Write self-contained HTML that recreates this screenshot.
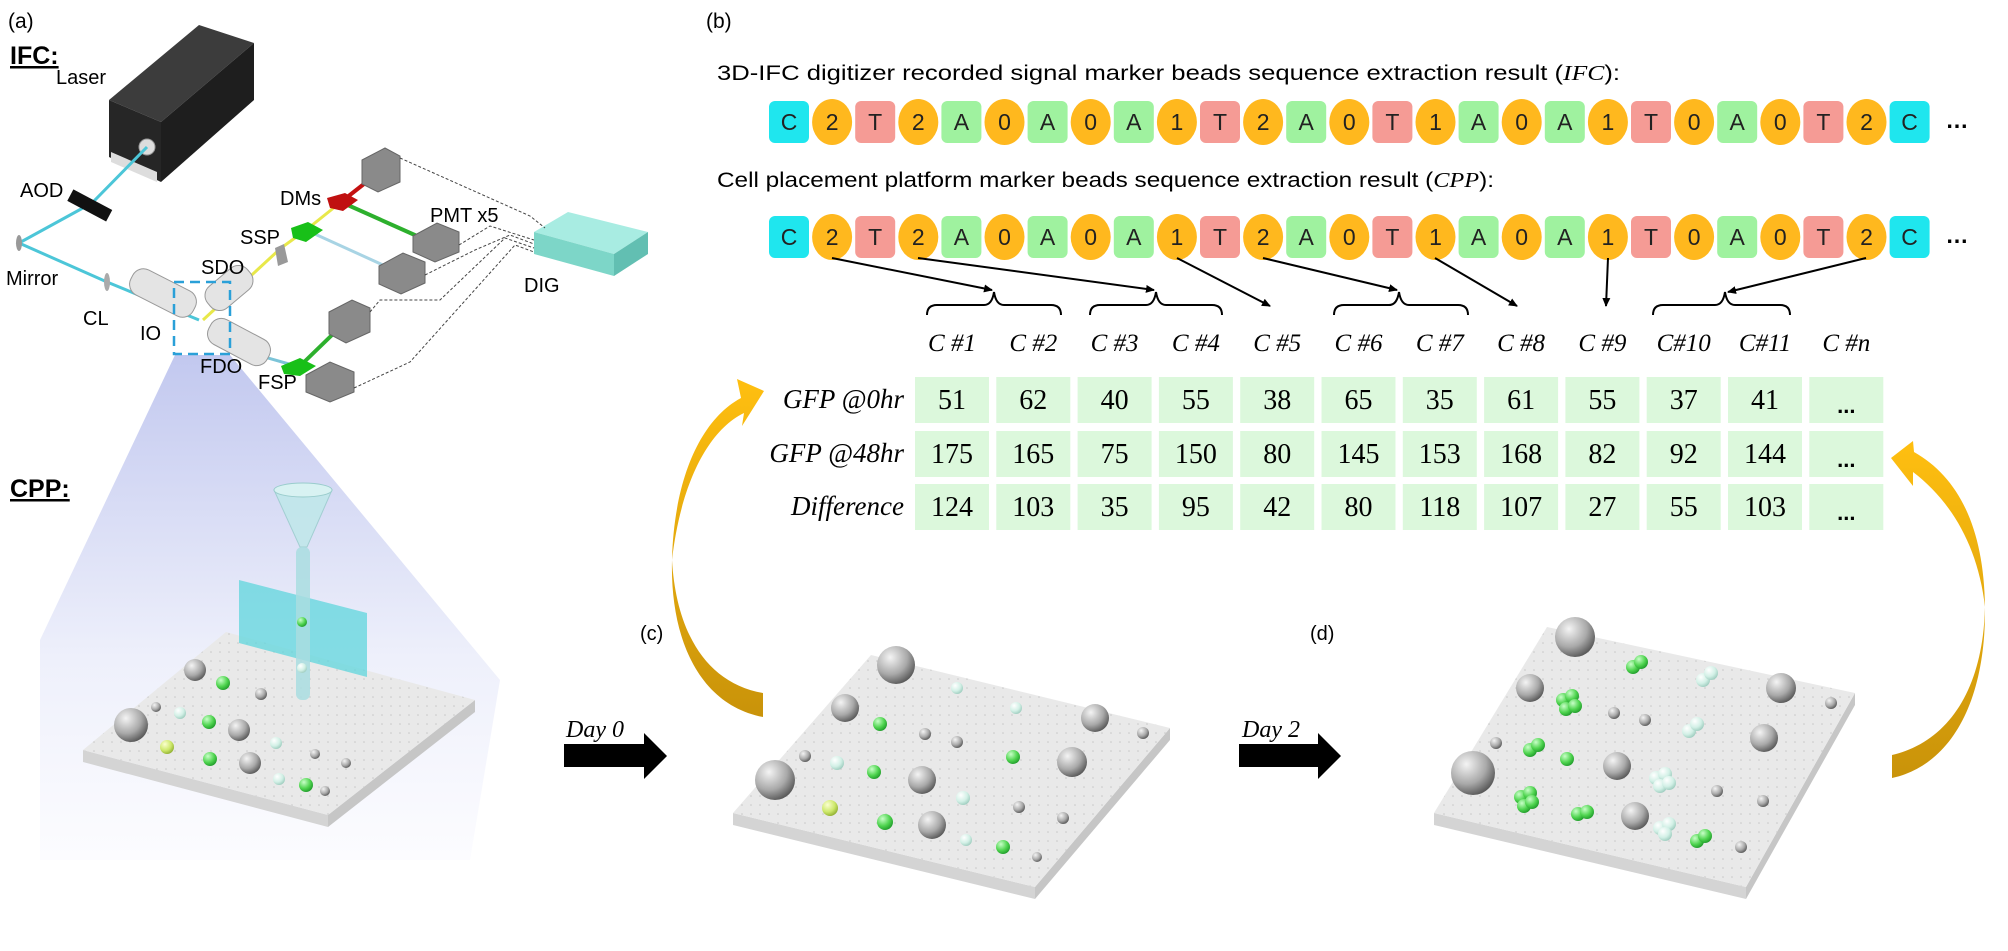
<!DOCTYPE html>
<html><head><meta charset="utf-8"><style>
html,body{margin:0;padding:0;background:#fff;}
svg{display:block;}
text{font-family:"Liberation Sans",sans-serif;}
.s{font-family:"Liberation Serif",serif;font-style:italic;}
.n{font-family:"Liberation Serif",serif;}
</style></head><body>
<svg width="2008" height="951" viewBox="0 0 2008 951" xmlns="http://www.w3.org/2000/svg">
<defs>
<radialGradient id="gs" cx="0.35" cy="0.3" r="0.75"><stop offset="0" stop-color="#f4f4f4"/><stop offset="0.6" stop-color="#a9a9a9"/><stop offset="1" stop-color="#555"/></radialGradient>
<radialGradient id="gg" cx="0.35" cy="0.3" r="0.75"><stop offset="0" stop-color="#c8ffc8"/><stop offset="0.6" stop-color="#4fd44f"/><stop offset="1" stop-color="#1f9a2a"/></radialGradient>
<radialGradient id="gp" cx="0.35" cy="0.3" r="0.75"><stop offset="0" stop-color="#ffffff"/><stop offset="0.6" stop-color="#d2f0e6"/><stop offset="1" stop-color="#9ccbbd"/></radialGradient>
<radialGradient id="gy" cx="0.35" cy="0.3" r="0.75"><stop offset="0" stop-color="#fbffd0"/><stop offset="0.6" stop-color="#cde86a"/><stop offset="1" stop-color="#8fae30"/></radialGradient>
<linearGradient id="cone" x1="0" y1="0" x2="0" y2="1"><stop offset="0" stop-color="#c2c8ef"/><stop offset="0.6" stop-color="#eef0fb"/><stop offset="1" stop-color="#fcfcff"/></linearGradient>
<linearGradient id="gold" x1="0" y1="0" x2="0" y2="1"><stop offset="0" stop-color="#ffbf10"/><stop offset="1" stop-color="#c9930a"/></linearGradient>
<pattern id="dots" width="9" height="9" patternUnits="userSpaceOnUse"><rect width="9" height="9" fill="#e9e9e9"/><circle cx="4" cy="4" r="0.8" fill="#c8c8c8"/></pattern>
<marker id="ah" markerWidth="10" markerHeight="10" refX="8" refY="4" orient="auto" markerUnits="userSpaceOnUse"><path d="M0,0 L9,4 L0,8 Z" fill="#000"/></marker>
</defs>

<polygon points="175,355 230,355 500,680 470,860 40,860 40,640" fill="url(#cone)"/>

<text x="8" y="28" font-size="21">(a)</text>
<text x="10" y="64" font-size="25" font-weight="bold" text-decoration="underline">IFC:</text>
<text x="56" y="84" font-size="20">Laser</text>
<polygon points="109,100 199,25 254,43 161,122" fill="#3c3c3c"/>
<polygon points="109,100 161,122 161,182 109,157" fill="#262626"/>
<polygon points="161,122 254,43 254,100 161,182" fill="#1e1e1e"/>
<polygon points="111,152 157,172 157,182 111,162" fill="#ddd"/>
<circle cx="147" cy="147" r="8" fill="#ddd" stroke="#999"/>
<polyline points="147,147 92,203 19,243 107,282 199,320" fill="none" stroke="#4cc6d8" stroke-width="3"/>
<polyline points="203,320 281,248 306,230 341,202" fill="none" stroke="#e8e84a" stroke-width="3"/>
<line x1="341" y1="202" x2="369" y2="180" stroke="#c41010" stroke-width="4"/>
<line x1="341" y1="202" x2="417" y2="236" stroke="#2db02d" stroke-width="4"/>
<line x1="306" y1="230" x2="383" y2="265" stroke="#a8d4e4" stroke-width="3"/>
<line x1="240" y1="350" x2="296" y2="366" stroke="#7cc4d8" stroke-width="3"/>
<line x1="300" y1="366" x2="332" y2="335" stroke="#2db02d" stroke-width="4"/>
<rect x="68" y="199" width="44" height="13" fill="#111" transform="rotate(28 90 205)"/>
<ellipse cx="19" cy="243" rx="3" ry="8" fill="#999"/>
<ellipse cx="107" cy="282" rx="3" ry="9" fill="#aaa"/>
<rect x="128" y="279" width="70" height="28" rx="12" fill="#e4e4e4" stroke="#999" transform="rotate(27 163 293)"/>
<rect x="203" y="274" width="52" height="28" rx="12" fill="#e4e4e4" stroke="#999" transform="rotate(-40 229 288)"/>
<rect x="206" y="328" width="66" height="28" rx="12" fill="#e4e4e4" stroke="#999" transform="rotate(28 239 342)"/>
<rect x="174" y="282" width="56" height="72" fill="none" stroke="#2aa0d8" stroke-width="2.5" stroke-dasharray="10,6"/>
<polygon points="327,198 345,193 358,200 343,211 330,208" fill="#c01010"/>
<polygon points="291,228 308,222 323,230 306,242 293,238" fill="#18c018"/>
<polygon points="275,248 284,244 288,262 278,266" fill="#999"/>
<polygon points="281,366 300,358 316,366 300,376 284,374" fill="#18c018"/>
<g fill="#8a8a8a" stroke="#666" stroke-width="1">
<polygon points="362,160 385,148 400,156 400,182 378,192 362,184"/>
<polygon points="413,236 437,223 459,232 459,252 435,262 413,252"/>
<polygon points="379,266 403,253 425,262 425,283 401,294 379,284"/>
<polygon points="329,312 352,300 370,308 370,332 346,343 329,334"/>
<polygon points="306,375 330,362 354,372 354,392 330,402 306,392"/>
</g>
<polygon points="534,232 568,212 648,232 614,254" fill="#a8ece2"/>
<polygon points="534,232 614,254 614,276 534,254" fill="#7dd6c8"/>
<polygon points="614,254 648,232 648,254 614,276" fill="#62bfb2"/>
<g fill="none" stroke="#444" stroke-width="1" stroke-dasharray="3,2">
<polyline points="400,158 530,216 545,228"/>
<polyline points="459,245 490,226 534,240"/>
<polyline points="425,275 475,250 510,235 534,244"/>
<polyline points="370,312 380,300 440,300 505,238 534,248"/>
<polyline points="354,388 410,362 515,245 534,252"/>
</g>
<g font-size="20">
<text x="20" y="197">AOD</text>
<text x="6" y="285">Mirror</text>
<text x="83" y="325">CL</text>
<text x="140" y="340">IO</text>
<text x="200" y="373">FDO</text>
<text x="258" y="389">FSP</text>
<text x="201" y="274">SDO</text>
<text x="240" y="244">SSP</text>
<text x="280" y="205">DMs</text>
<text x="430" y="222">PMT x5</text>
<text x="524" y="292">DIG</text>
</g>
<text x="10" y="497" font-size="25" font-weight="bold" text-decoration="underline">CPP:</text>

<polygon points="83,750 328,815 328,827 83,762" fill="#d4d4d4"/>
<polygon points="328,815 475,700 475,712 328,827" fill="#c6c6c6"/>
<polygon points="226,632 475,700 328,815 83,750" fill="url(#dots)"/>
<polygon points="239,580 367,613 367,677 239,643" fill="#5fd6dc" opacity="0.75"/>
<polygon points="274,490 332,490 307,547 300,547" fill="#bfe8ea" opacity="0.85" stroke="#9cc" stroke-width="1"/>
<ellipse cx="303" cy="490" rx="29" ry="7" fill="#d8f2f2" stroke="#9cc"/>
<rect x="296" y="547" width="14" height="153" rx="6" fill="#a9dde0" opacity="0.85"/>
<circle cx="302" cy="622" r="5" fill="url(#gg)"/><circle cx="302" cy="668" r="5" fill="url(#gp)"/>
<g>
<circle cx="131" cy="725" r="17" fill="url(#gs)"/><circle cx="195" cy="670" r="11" fill="url(#gs)"/>
<circle cx="223" cy="683" r="7" fill="url(#gg)"/><circle cx="261" cy="694" r="6" fill="url(#gs)"/>
<circle cx="156" cy="707" r="5" fill="url(#gs)"/><circle cx="180" cy="713" r="6" fill="url(#gp)"/>
<circle cx="209" cy="722" r="7" fill="url(#gg)"/><circle cx="239" cy="730" r="11" fill="url(#gs)"/>
<circle cx="167" cy="747" r="7" fill="url(#gy)"/><circle cx="276" cy="743" r="6" fill="url(#gp)"/>
<circle cx="210" cy="759" r="7" fill="url(#gg)"/><circle cx="250" cy="763" r="11" fill="url(#gs)"/>
<circle cx="315" cy="754" r="5" fill="url(#gs)"/><circle cx="346" cy="763" r="5" fill="url(#gs)"/>
<circle cx="279" cy="779" r="6" fill="url(#gp)"/><circle cx="306" cy="785" r="7" fill="url(#gg)"/>
<circle cx="325" cy="791" r="5" fill="url(#gs)"/>
</g>

<polygon points="564,744 644,744 644,733 667,756 644,779 644,767 564,767" fill="#000"/>
<text x="566" y="737" font-size="24" class="s">Day 0</text>
<polygon points="1239,744 1318,744 1318,733 1341,756 1318,779 1318,767 1239,767" fill="#000"/>
<text x="1242" y="737" font-size="24" class="s">Day 2</text>
<text x="640" y="640" font-size="20">(c)</text>
<text x="1310" y="640" font-size="20">(d)</text>

<polygon points="733,813 1035,887 1035,899 733,825" fill="#d4d4d4"/>
<polygon points="1035,887 1170,728 1170,740 1035,899" fill="#c6c6c6"/>
<polygon points="871,655 1170,728 1035,887 733,813" fill="url(#dots)"/>
<g>
<circle cx="896" cy="665" r="19" fill="url(#gs)"/><circle cx="845" cy="708" r="14" fill="url(#gs)"/>
<circle cx="957" cy="688" r="6" fill="url(#gp)"/><circle cx="880" cy="724" r="7" fill="url(#gg)"/>
<circle cx="925" cy="734" r="6" fill="url(#gs)"/><circle cx="957" cy="742" r="6" fill="url(#gs)"/>
<circle cx="805" cy="756" r="6" fill="url(#gs)"/><circle cx="837" cy="763" r="7" fill="url(#gp)"/>
<circle cx="874" cy="772" r="7" fill="url(#gg)"/><circle cx="775" cy="780" r="20" fill="url(#gs)"/>
<circle cx="922" cy="780" r="14" fill="url(#gs)"/><circle cx="963" cy="798" r="7" fill="url(#gp)"/>
<circle cx="830" cy="808" r="8" fill="url(#gy)"/><circle cx="885" cy="822" r="8" fill="url(#gg)"/>
<circle cx="932" cy="825" r="14" fill="url(#gs)"/><circle cx="966" cy="840" r="6" fill="url(#gp)"/>
<circle cx="1016" cy="708" r="6" fill="url(#gp)"/><circle cx="1095" cy="718" r="14" fill="url(#gs)"/>
<circle cx="1143" cy="733" r="6" fill="url(#gs)"/><circle cx="1013" cy="757" r="7" fill="url(#gg)"/>
<circle cx="1072" cy="762" r="15" fill="url(#gs)"/><circle cx="1019" cy="807" r="6" fill="url(#gs)"/>
<circle cx="1063" cy="818" r="6" fill="url(#gs)"/><circle cx="1003" cy="847" r="7" fill="url(#gg)"/>
<circle cx="1037" cy="857" r="5" fill="url(#gs)"/>
</g>

<polygon points="1434,813 1746,887 1746,899 1434,825" fill="#d4d4d4"/>
<polygon points="1746,887 1855,693 1855,705 1746,899" fill="#c6c6c6"/>
<polygon points="1547,627 1855,693 1746,887 1434,813" fill="url(#dots)"/>
<g>
<circle cx="1575" cy="637" r="20" fill="url(#gs)"/><circle cx="1781" cy="688" r="15" fill="url(#gs)"/>
<circle cx="1831" cy="703" r="6" fill="url(#gs)"/><circle cx="1530" cy="688" r="14" fill="url(#gs)"/>
<circle cx="1614" cy="713" r="6" fill="url(#gs)"/><circle cx="1645" cy="720" r="6" fill="url(#gs)"/>
<circle cx="1764" cy="738" r="14" fill="url(#gs)"/><circle cx="1496" cy="743" r="6" fill="url(#gs)"/>
<circle cx="1617" cy="766" r="14" fill="url(#gs)"/><circle cx="1473" cy="773" r="22" fill="url(#gs)"/>
<circle cx="1717" cy="791" r="6" fill="url(#gs)"/><circle cx="1763" cy="801" r="6" fill="url(#gs)"/>
<circle cx="1635" cy="816" r="14" fill="url(#gs)"/><circle cx="1741" cy="847" r="6" fill="url(#gs)"/>
<circle cx="1567" cy="759" r="7" fill="url(#gg)"/>
<circle cx="1633" cy="667" r="7" fill="url(#gg)"/><circle cx="1641" cy="662" r="7" fill="url(#gg)"/>
<circle cx="1703" cy="680" r="7" fill="url(#gp)"/><circle cx="1711" cy="673" r="7" fill="url(#gp)"/>
<circle cx="1563" cy="700" r="7" fill="url(#gg)"/><circle cx="1572" cy="696" r="7" fill="url(#gg)"/><circle cx="1566" cy="709" r="7" fill="url(#gg)"/><circle cx="1575" cy="706" r="7" fill="url(#gg)"/>
<circle cx="1689" cy="731" r="7" fill="url(#gp)"/><circle cx="1697" cy="724" r="7" fill="url(#gp)"/>
<circle cx="1530" cy="750" r="7" fill="url(#gg)"/><circle cx="1538" cy="745" r="7" fill="url(#gg)"/>
<circle cx="1656" cy="778" r="7" fill="url(#gp)"/><circle cx="1665" cy="774" r="7" fill="url(#gp)"/><circle cx="1660" cy="786" r="7" fill="url(#gp)"/><circle cx="1669" cy="783" r="7" fill="url(#gp)"/>
<circle cx="1521" cy="797" r="7" fill="url(#gg)"/><circle cx="1530" cy="793" r="7" fill="url(#gg)"/><circle cx="1524" cy="806" r="7" fill="url(#gg)"/><circle cx="1532" cy="802" r="7" fill="url(#gg)"/>
<circle cx="1578" cy="814" r="7" fill="url(#gg)"/><circle cx="1587" cy="812" r="7" fill="url(#gg)"/>
<circle cx="1660" cy="828" r="7" fill="url(#gp)"/><circle cx="1669" cy="824" r="7" fill="url(#gp)"/><circle cx="1665" cy="834" r="7" fill="url(#gp)"/>
<circle cx="1697" cy="841" r="7" fill="url(#gg)"/><circle cx="1705" cy="836" r="7" fill="url(#gg)"/>
</g>

<!-- gold arrows -->
<path d="M763,717 C700,705 670,640 672,560 C674,480 700,420 741,398 L737,379 L764,391 L742,426 L744,413 C705,432 680,490 672,560 C676,630 705,683 763,693 Z" fill="url(#gold)"/>
<path d="M1892,778 C1952,765 1986,700 1985,607 C1984,530 1960,478 1914,452 L1913,441 L1891,458 L1913,486 L1913,472 C1950,500 1978,545 1985,607 C1983,690 1948,742 1892,755 Z" fill="url(#gold)"/>

<text x="706" y="28" font-size="21">(b)</text>
<text x="717" y="80" font-size="21" textLength="903" lengthAdjust="spacingAndGlyphs">3D-IFC digitizer recorded signal marker beads sequence extraction result (<tspan class="s">IFC</tspan>):</text>
<text x="717" y="187" font-size="21" textLength="777" lengthAdjust="spacingAndGlyphs">Cell placement platform marker beads sequence extraction result (<tspan class="s">CPP</tspan>):</text>

<g id="rows" font-size="23" text-anchor="middle"></g>

<g stroke="#000" stroke-width="2" fill="none" marker-end="url(#ah)">
<line x1="832" y1="258" x2="992" y2="290"/>
<line x1="918" y1="258" x2="1154" y2="290"/>
<line x1="1177" y1="258" x2="1270" y2="306"/>
<line x1="1263" y1="258" x2="1397" y2="290"/>
<line x1="1435" y1="258" x2="1517" y2="306"/>
<line x1="1608" y1="258" x2="1606" y2="306"/>
<line x1="1866" y1="258" x2="1728" y2="292"/>
</g>
<g stroke="#000" stroke-width="2" fill="none">
<path d="M927,315 Q927,305 937,305 L984,305 Q992,305 994,292 Q996,305 1004,305 L1051,305 Q1061,305 1061,315"/>
<path d="M1090,315 Q1090,305 1100,305 L1146,305 Q1154,305 1156,292 Q1158,305 1166,305 L1212,305 Q1222,305 1222,315"/>
<path d="M1334,315 Q1334,305 1344,305 L1389,305 Q1397,305 1399,292 Q1401,305 1409,305 L1458,305 Q1468,305 1468,315"/>
<path d="M1653,315 Q1653,305 1663,305 L1715,305 Q1723,305 1725,292 Q1727,305 1735,305 L1780,305 Q1790,305 1790,315"/>
</g>

<g id="tbl"></g>
<g text-anchor="end" font-size="27" class="s">
<text x="904" y="408" class="s">GFP @0hr</text>
<text x="904" y="462" class="s">GFP @48hr</text>
<text x="904" y="515" class="s">Difference</text>
</g>
</svg>
<script>
(function(){
var NS="http://www.w3.org/2000/svg";
function el(t,a,p,txt){var e=document.createElementNS(NS,t);for(var k in a)e.setAttribute(k,a[k]);if(txt!=null)e.textContent=txt;p.appendChild(e);return e;}
var seq="C2T2A0A0A1T2A0T1A0A1T0A0T2C".split("");
var rows=document.getElementById("rows");
var col={C:"#1fe6ee",T:"#f59b95",A:"#9ff29f"};
[122,237].forEach(function(y,r){
 seq.forEach(function(ch,i){
  var x=789+43.1*i;
  if(/[0-9]/.test(ch)) el("ellipse",{cx:x,cy:y,rx:20,ry:23,fill:"#ffb81e"},rows);
  else el("rect",{x:x-20,y:y-21,width:40,height:42,rx:6,fill:col[ch]},rows);
  el("text",{x:x,y:y+8,fill:"#222"},rows,ch);
 });
 el("text",{x:1957,y:y+6,"font-weight":"bold"},rows,"\u2026");
});
var tbl=document.getElementById("tbl");
var data=[[51,62,40,55,38,65,35,61,55,37,41],[175,165,75,150,80,145,153,168,82,92,144],[124,103,35,95,42,80,118,107,27,55,103]];
var ry=[377,431,484];
for(var k=0;k<12;k++){
 var cx=952+81.3*k;
 var lab=k==11?"C #":(k>=9?"C#"+(k+1):"C #"+(k+1));
 var t=el("text",{x:cx,y:351,"text-anchor":"middle","font-size":25,"class":"s"},tbl,lab);
 if(k==11){el("tspan",{},t,"n");}
 for(var r=0;r<3;r++){
  el("rect",{x:cx-37,y:ry[r],width:74,height:46,fill:"#dcf8dc"},tbl);
  if(k<11) el("text",{x:cx,y:ry[r]+32,"text-anchor":"middle","font-size":28,"class":"n"},tbl,String(data[r][k]));
  else el("text",{x:cx,y:ry[r]+36,"text-anchor":"middle","font-size":22,"font-weight":"bold"},tbl,"...");
 }
}
})();
</script>
</body></html>
